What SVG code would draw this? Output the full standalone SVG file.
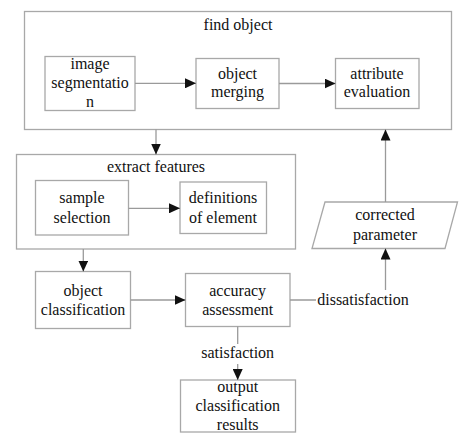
<svg xmlns="http://www.w3.org/2000/svg" width="474" height="448" viewBox="0 0 474 448">
<style>
.box{fill:#fff;stroke:#a8a8a8;stroke-width:1.3}
.t{font-family:"Liberation Serif","Times New Roman",serif;font-size:16px;fill:#111;text-anchor:middle}
.c{fill:none;stroke:#9a9a9a;stroke-width:1.3}
.lbl{fill:#fff;stroke:none}
</style>
<defs>
<marker id="ah" markerUnits="userSpaceOnUse" markerWidth="12" markerHeight="10" refX="11" refY="5" orient="auto">
<path d="M0,0 L11,5 L0,10 Z" fill="#111"/>
</marker>
</defs>
<rect x="0" y="0" width="474" height="448" fill="#fff"/>

<g id="findObject">
<rect class="box" x="24.5" y="11.5" width="427" height="118"/>
<text class="t" x="238" y="30">find object</text>
</g>
<g id="imageSegmentation">
<rect class="box" x="45" y="56.5" width="90" height="54"/>
<text class="t" x="90" y="69">image</text>
<text class="t" x="90" y="88">segmentatio</text>
<text class="t" x="90" y="107">n</text>
</g>
<g id="objectMerging">
<rect class="box" x="196" y="58.5" width="83" height="50"/>
<text class="t" x="237.5" y="79">object</text>
<text class="t" x="237.5" y="97">merging</text>
</g>
<g id="attributeEvaluation">
<rect class="box" x="335.5" y="58.5" width="83.5" height="50"/>
<text class="t" x="377" y="79">attribute</text>
<text class="t" x="377" y="97">evaluation</text>
</g>
<g id="extractFeatures">
<rect class="box" x="16.5" y="154.5" width="279" height="94.5"/>
<text class="t" x="156" y="172">extract features</text>
</g>
<g id="sampleSelection">
<rect class="box" x="35.5" y="180.5" width="93" height="54.5"/>
<text class="t" x="82" y="203">sample</text>
<text class="t" x="82" y="222.5">selection</text>
</g>
<g id="definitionsOfElement">
<rect class="box" x="180" y="182" width="86.5" height="51.5"/>
<text class="t" x="223" y="203">definitions</text>
<text class="t" x="223" y="222.5">of element</text>
</g>
<g id="correctedParameter">
<polygon class="box" points="325,202 457.5,202 445,248.5 312,248.5"/>
<text class="t" x="385" y="220">corrected</text>
<text class="t" x="385" y="240">parameter</text>
</g>
<g id="objectClassification">
<rect class="box" x="35.5" y="271.5" width="95" height="57"/>
<text class="t" x="83" y="296">object</text>
<text class="t" x="83" y="315">classification</text>
</g>
<g id="accuracyAssessment">
<rect class="box" x="185.5" y="273.5" width="104.5" height="53"/>
<text class="t" x="237.7" y="296">accuracy</text>
<text class="t" x="237.7" y="315">assessment</text>
</g>
<g id="outputResults">
<rect class="box" x="180.5" y="380" width="115" height="52"/>
<text class="t" x="237.7" y="391.7">output</text>
<text class="t" x="237.7" y="410.7">classification</text>
<text class="t" x="237.7" y="430">results</text>
</g>

<g id="connectors">
<path class="c" d="M135,83.3 H196" marker-end="url(#ah)"/>
<path class="c" d="M279,83.5 H335.5" marker-end="url(#ah)"/>
<path class="c" d="M156,129.5 V154.5" marker-end="url(#ah)"/>
<path class="c" d="M128.5,208.3 H180" marker-end="url(#ah)"/>
<path class="c" d="M83.3,249 V271.5" marker-end="url(#ah)"/>
<path class="c" d="M130.5,300 H185.5" marker-end="url(#ah)"/>
<path class="c" d="M237.7,326.5 V380" marker-end="url(#ah)"/>
<path class="c" d="M290,300 H385.5 V248.5" marker-end="url(#ah)"/>
<path class="c" d="M385.5,202 V129.5" marker-end="url(#ah)"/>
<rect class="lbl" x="201" y="344" width="74" height="20"/>
<text class="t" x="237.7" y="358.3">satisfaction</text>
<rect class="lbl" x="316" y="290" width="94" height="20"/>
<text class="t" x="363" y="305">dissatisfaction</text>
</g>
</svg>
